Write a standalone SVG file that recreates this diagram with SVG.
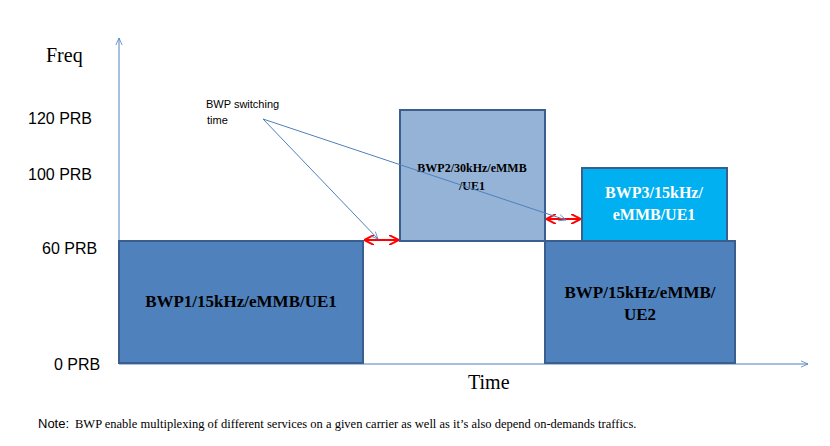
<svg xmlns="http://www.w3.org/2000/svg" width="830" height="446" viewBox="0 0 830 446">
<defs>
<style>
.ax{stroke:#4f81bd;stroke-width:1;fill:none}
.lbl{font-family:"Liberation Sans",Arial,sans-serif;font-size:16px;fill:#000}
.srf{font-family:"Liberation Serif","Times New Roman",serif;font-weight:bold;fill:#000}
.box{stroke:#3a5f8f;stroke-width:2}
.red{stroke:#ff0000;stroke-width:2;fill:none;marker-start:url(#ra);marker-end:url(#ra)}
.ptr{stroke:#4f81bd;stroke-width:1;fill:none;marker-end:url(#pa)}
</style>
<marker id="ra" viewBox="0 0 10 10" refX="9" refY="5" markerWidth="5" markerHeight="5" orient="auto-start-reverse"><path d="M0,0 L10,5 L0,10" fill="none" stroke="#ff0000" stroke-width="2"/></marker>
<marker id="pa" viewBox="0 0 10 10" refX="9" refY="5" markerWidth="8" markerHeight="8" orient="auto"><path d="M0,1 L9,5 L0,9" fill="none" stroke="#4f81bd" stroke-width="1"/></marker>
<marker id="aa" viewBox="0 0 10 10" refX="9" refY="5" markerWidth="8" markerHeight="8" orient="auto"><path d="M0,1 L9,5 L0,9" fill="none" stroke="#4f81bd" stroke-width="1"/></marker>
</defs>
<rect width="830" height="446" fill="#fff"/>
<g id="axes">
<line class="ax" x1="119" y1="364" x2="119" y2="38" marker-end="url(#aa)"/>
<line class="ax" x1="119" y1="364" x2="808" y2="364" marker-end="url(#aa)"/>
<text x="46" y="62" font-family="Liberation Serif,serif" font-size="20">Freq</text>
<text class="lbl" x="28" y="124">120 PRB</text>
<text class="lbl" x="28" y="180">100 PRB</text>
<text class="lbl" x="42" y="254">60 PRB</text>
<text class="lbl" x="54" y="370">0 PRB</text>
<text x="468" y="389" font-family="Liberation Serif,serif" font-size="20">Time</text>
</g>
<g id="bwp1"><rect class="box" x="119" y="241" width="244" height="122" fill="#4f81bd"/>
<text class="srf" x="241" y="307" font-size="17" text-anchor="middle">BWP1/15kHz/eMMB/UE1</text></g>
<g id="bwp2"><rect class="box" x="400" y="110" width="145" height="131" fill="#95b3d7"/>
<text class="srf" x="472" y="172" font-size="12" text-anchor="middle">BWP2/30kHz/eMMB</text>
<text class="srf" x="472" y="190" font-size="12" text-anchor="middle">/UE1</text></g>
<g id="bwp3"><rect class="box" x="582" y="168" width="145" height="73" fill="#00b0f0"/>
<text class="srf" x="654" y="198" font-size="16" fill="#fff" style="fill:#fff" text-anchor="middle">BWP3/15kHz/</text>
<text class="srf" x="654" y="220" font-size="16" style="fill:#fff" text-anchor="middle">eMMB/UE1</text></g>
<g id="bwpue2"><rect class="box" x="545" y="241" width="190" height="122" fill="#4f81bd"/>
<text class="srf" x="640" y="298" font-size="17" text-anchor="middle">BWP/15kHz/eMMB/</text>
<text class="srf" x="640" y="320" font-size="17" text-anchor="middle">UE2</text></g>
<g id="callout"><text font-family="Liberation Sans,sans-serif" font-size="11" x="206" y="108">BWP switching</text>
<text font-family="Liberation Sans,sans-serif" font-size="11" x="207" y="124">time</text></g>
<g id="connectors">
<line class="red" x1="365" y1="240" x2="398" y2="240"/>
<line class="red" x1="547" y1="219" x2="580" y2="219"/>
<line class="ptr" x1="263" y1="119" x2="378" y2="239"/>
<line class="ptr" x1="263" y1="119" x2="566" y2="220"/>
</g>
<g id="note"><text x="38" y="428" font-family="Liberation Sans,sans-serif" font-size="13">Note:</text>
<text x="75" y="428" font-family="Liberation Serif,serif" font-size="12.5">BWP enable multiplexing  of different services on a given carrier as well as it’s also depend on-demands traffics.</text></g>
</svg>
